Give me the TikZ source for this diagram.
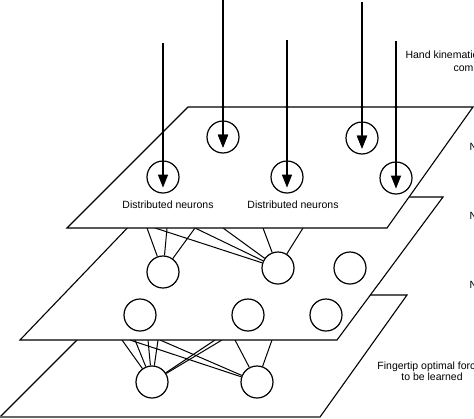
\documentclass[tikz,border=0pt]{standalone}
\usepackage{fontspec}
\setmainfont{Liberation Sans}
\usetikzlibrary{arrows.meta}

\begin{document}
\begin{tikzpicture}[x=1pt,y=-1pt,line width=1.1pt,
        plane/.style={draw,fill=white,line join=miter},
        neuron/.style={circle,draw,fill=white,line width=1.2pt,minimum size=32pt,inner sep=0pt},
        input/.style={line width=1.2pt,shorten >=6pt,-{Triangle[width=10pt,length=13pt]}},
        link/.style={line width=1pt},
        lbl/.style={font=\fontsize{10.5}{11}\selectfont,inner sep=0pt}]
    \useasboundingbox (0,0) rectangle (474,418);
    % bottom layer
    \draw[plane] (122,295) -- (407,295) -- (320,417) -- (0,417) -- cycle;
    \draw[gray!80!black,line width=2.5pt] (0,417) -- (320,417);
    \node[neuron] (c1) at (152,382) {};
    \node[neuron] (c2) at (257,382) {};
    \foreach \x/\dst [count=\i] in {122/c1,135/c1,148/c1,158/c1,130/c2,160/c2,215/c1,222/c1,235/c2,272/c2}
        {\coordinate (l\i) at (\x,340);
         \draw[link] (l\i) -- (\dst);}
    % middle layer
    \draw[plane] (20,340) -- (157,197) -- (443,197) -- (337,340) -- cycle;
    \node[neuron] (a1) at (163,272) {};
    \node[neuron] (a2) at (278,268) {};
    \node[neuron] (a3) at (350,268) {};
    \node[neuron] (b1) at (140,315) {};
    \node[neuron] (b2) at (248,315) {};
    \node[neuron] (b3) at (326,315) {};
    \foreach \x/\dst [count=\i] in {147/a1,167/a1,195/a1,155/a2,195/a2,223/a2,263/a2,303/a2}
        {\coordinate (u\i) at (\x,228);
         \draw[link] (u\i) -- (\dst);}
    % top layer
    \draw[plane] (188,107) -- (473,107) -- (387,228) -- (67,228) -- cycle;
    \node[neuron] (t1) at (223,137) {};
    \node[neuron] (t2) at (362,138) {};
    \node[neuron] (t3) at (163,177) {};
    \node[neuron] (t4) at (287,177) {};
    \node[neuron] (t5) at (396,178) {};
    \coordinate (i1) at (223,0);
    \coordinate (i2) at (362,2);
    \coordinate (i3) at (163,43);
    \coordinate (i4) at (287,40);
    \coordinate (i5) at (396,41);
    \foreach \i in {1,...,5}
        \draw[input] (i\i) -- (t\i.south);
    \draw[input,line width=1.8pt] (i1) -- (t1.south);
    \draw[input,line width=1.8pt] (i2) -- (t2.south);
    \foreach \x in {223,287,362,396}
        \fill (\x,107) circle (1.6pt);
    % labels
    \node[lbl] (dn1) at (168,205) {Distributed neurons};
    \node[lbl] (dn2) at (293,205) {Distributed neurons};
    \node[lbl,anchor=west] (kin) at (405,55) {Hand kinematic};
    \node[lbl,anchor=west] (cmd) at (453,68) {commands};
    \node[lbl,anchor=west] (n1) at (469,147) {Neurons};
    \node[lbl,anchor=west] (n2) at (469,216) {Neurons};
    \node[lbl,anchor=west] (n3) at (469,285) {Neurons};
    \node[lbl,align=center] (force) at (432,371) {Fingertip optimal forces\\to be learned};
\end{tikzpicture}
\end{document}
